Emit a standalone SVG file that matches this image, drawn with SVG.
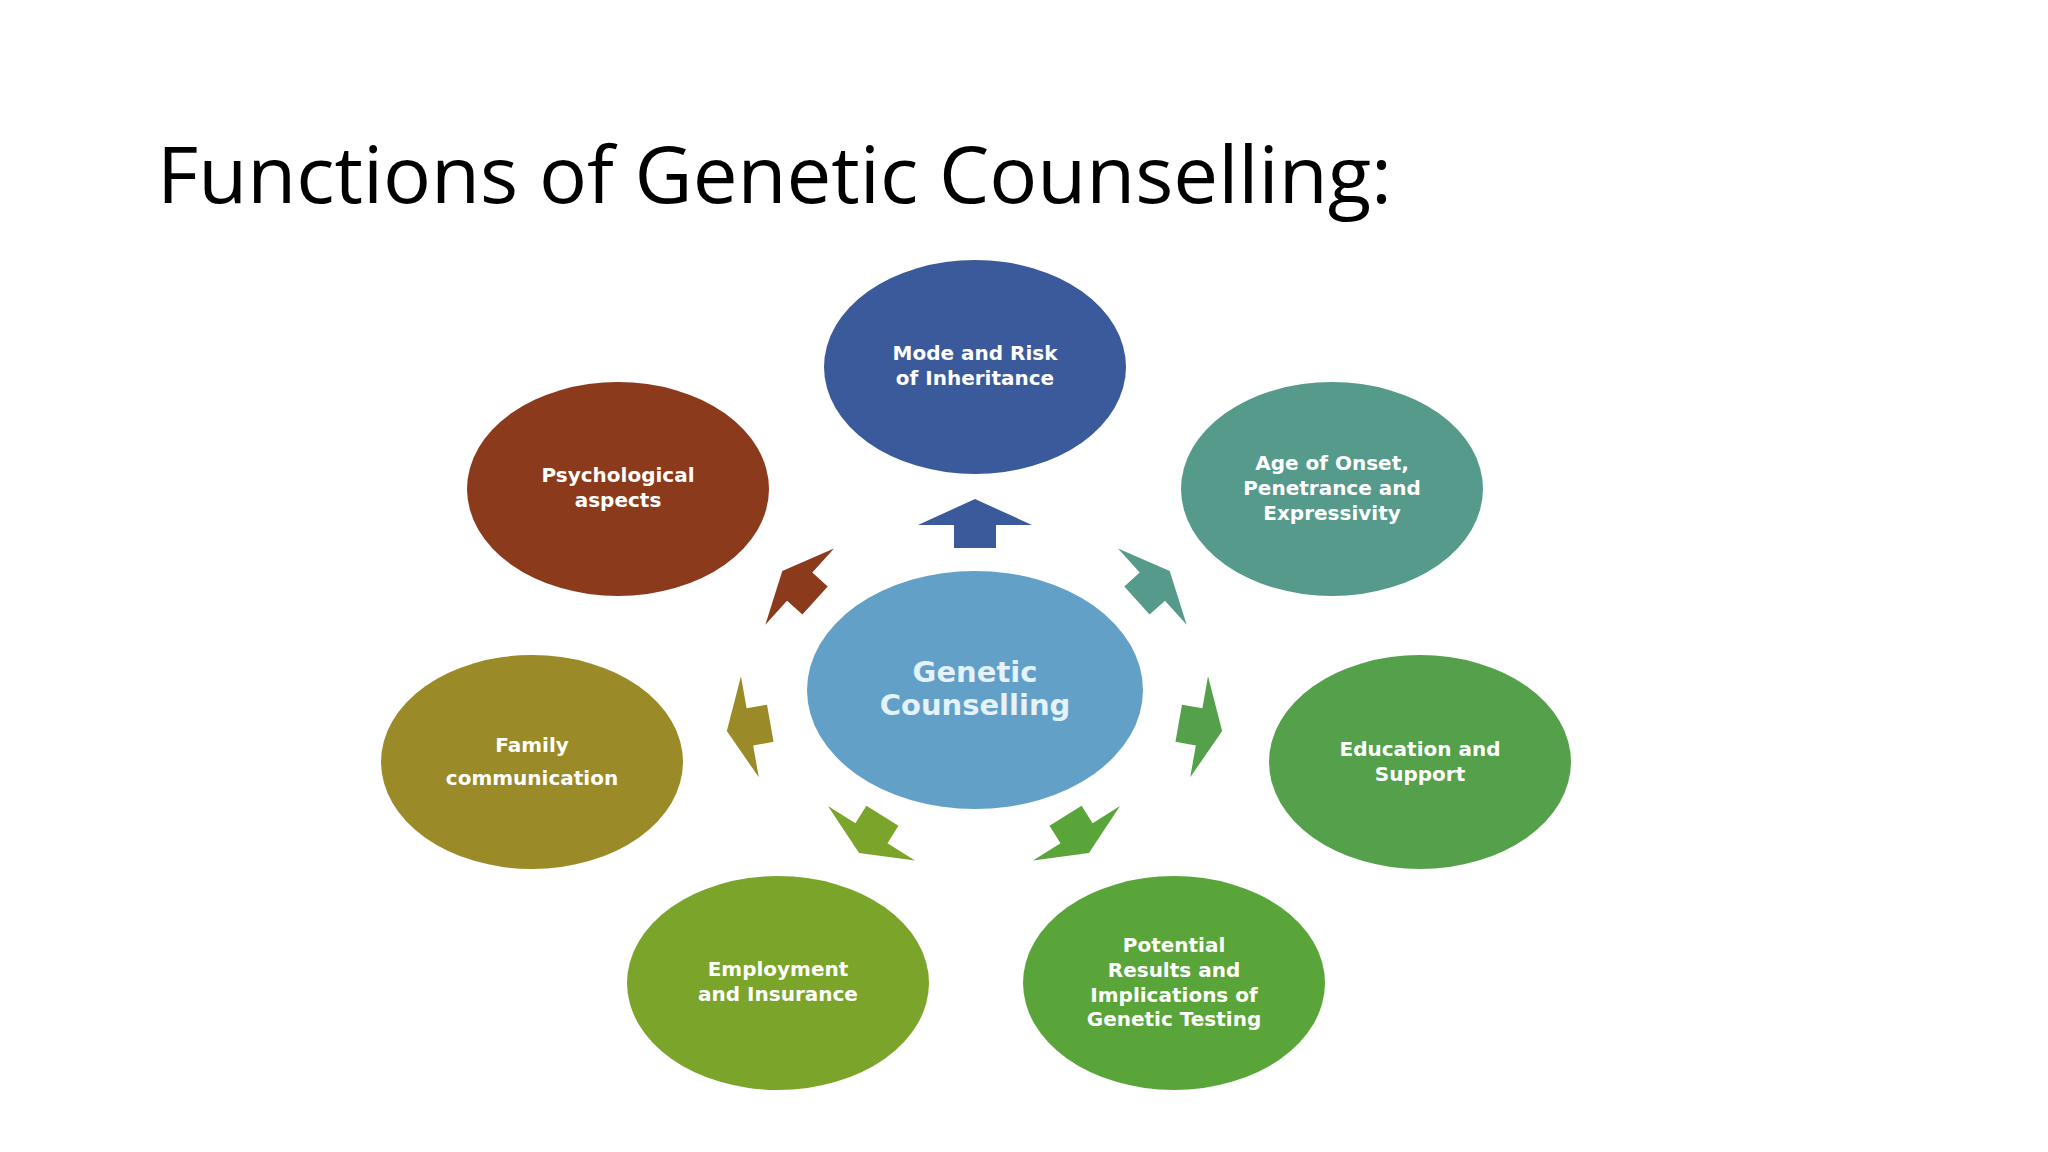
<svg xmlns="http://www.w3.org/2000/svg" width="2048" height="1152" viewBox="0 0 2048 1152">
<style>
.t{font-family:"DejaVu Sans",Verdana,sans-serif;font-weight:bold;font-size:20px;fill:#fff;text-anchor:middle}
.c{font-family:"DejaVu Sans",Verdana,sans-serif;font-weight:bold;font-size:29px;fill:#e4f2fc;text-anchor:middle}
</style>
<defs>
<path id="ar" d="M0,-25 L57,1 L21,1 L21,24 L-21,24 L-21,1 L-57,1 Z"/>
</defs>
<rect width="2048" height="1152" fill="#fff"/>
<text x="157" y="203" font-family="'Open Sans','Noto Sans',sans-serif" font-size="78" textLength="1235" lengthAdjust="spacingAndGlyphs" fill="#000">Functions of Genetic Counselling:</text>
<g id="connectors">
<use href="#ar" transform="translate(975,524)" fill="#3a5a9c"/>
<use href="#ar" transform="translate(799,586) rotate(-48) scale(0.9)" fill="#8b3a1c"/>
<use href="#ar" transform="translate(1153,586) rotate(48) scale(0.9)" fill="#559a8a"/>
<use href="#ar" transform="translate(749,727) rotate(-100) scale(0.9)" fill="#9a8a28"/>
<use href="#ar" transform="translate(1200,727) rotate(100) scale(0.9)" fill="#55a04a"/>
<use href="#ar" transform="translate(871,834) rotate(-148) scale(0.9)" fill="#7aa52a"/>
<use href="#ar" transform="translate(1077,834) rotate(148) scale(0.9)" fill="#5aa53a"/>
</g>
<g id="center"><ellipse cx="975" cy="690" rx="168" ry="119" fill="#63a0c8"/>
<text class="c" x="975" y="682">Genetic</text><text class="c" x="975" y="715">Counselling</text></g>
<g id="mode"><ellipse cx="975" cy="367" rx="151" ry="107" fill="#3a5a9c"/>
<text class="t" x="975" y="360">Mode and Risk</text><text class="t" x="975" y="385">of Inheritance</text></g>
<g id="age"><ellipse cx="1332" cy="489" rx="151" ry="107" fill="#559a8a"/>
<text class="t" x="1332" y="470">Age of Onset,</text><text class="t" x="1332" y="495">Penetrance and</text><text class="t" x="1332" y="520">Expressivity</text></g>
<g id="psych"><ellipse cx="618" cy="489" rx="151" ry="107" fill="#8b3a1c"/>
<text class="t" x="618" y="482">Psychological</text><text class="t" x="618" y="507">aspects</text></g>
<g id="family"><ellipse cx="532" cy="762" rx="151" ry="107" fill="#9a8a28"/>
<text class="t" x="532" y="752">Family</text><text class="t" x="532" y="785">communication</text></g>
<g id="education"><ellipse cx="1420" cy="762" rx="151" ry="107" fill="#55a04a"/>
<text class="t" x="1420" y="756">Education and</text><text class="t" x="1420" y="781">Support</text></g>
<g id="employment"><ellipse cx="778" cy="983" rx="151" ry="107" fill="#7aa52a"/>
<text class="t" x="778" y="976">Employment</text><text class="t" x="778" y="1001">and Insurance</text></g>
<g id="potential"><ellipse cx="1174" cy="983" rx="151" ry="107" fill="#5aa53a"/>
<text class="t" x="1174" y="952">Potential</text><text class="t" x="1174" y="977">Results and</text><text class="t" x="1174" y="1002">Implications of</text><text class="t" x="1174" y="1026">Genetic Testing</text></g>
</svg>
